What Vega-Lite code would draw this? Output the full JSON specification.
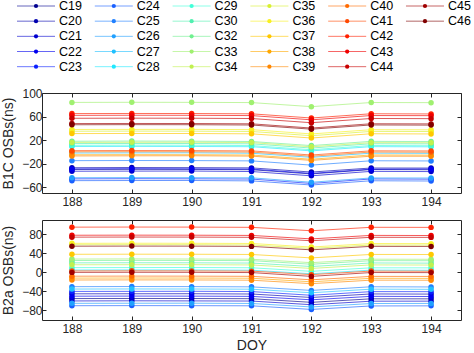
{
  "$schema": "https://vega.github.io/schema/vega-lite/v6.json",
  "padding": {"left": 0, "right": 0, "top": 0, "bottom": 0},
  "bounds": "flush",
  "spacing": 27,
  "config": {
    "font": "Liberation Sans",
    "view": {"stroke": "#262626", "strokeWidth": 1},
    "axis": {"grid": false, "domain": false, "tickColor": "#262626", "tickSize": -4, "labelColor": "#262626", "labelFontSize": 12, "titleFontSize": 14, "titleFontWeight": "normal", "titleColor": "#262626", "labelFont": "Liberation Sans", "titleFont": "Liberation Sans"},
    "axisX": {"labelPadding": 7.5},
    "axisY": {"labelPadding": 4}
  },
  "datasets": {
    "osb": [
      {"s":"C19","d":188,"a":-30,"b":-55},{"s":"C19","d":189,"a":-29.8,"b":-54.8},{"s":"C19","d":190,"a":-29.9,"b":-54.9},{"s":"C19","d":191,"a":-30.4,"b":-55.3},{"s":"C19","d":192,"a":-37.6,"b":-62.9},{"s":"C19","d":193,"a":-30.1,"b":-55.5},{"s":"C19","d":194,"a":-30.5,"b":-55.6},
      {"s":"C20","d":188,"a":-27,"b":-45},{"s":"C20","d":189,"a":-26.7,"b":-44.9},{"s":"C20","d":190,"a":-26.9,"b":-44.8},{"s":"C20","d":191,"a":-27.3,"b":-45.4},{"s":"C20","d":192,"a":-34.4,"b":-52.7},{"s":"C20","d":193,"a":-27.5,"b":-45.3},{"s":"C20","d":194,"a":-27.6,"b":-45.6},
      {"s":"C21","d":188,"a":-33,"b":-60},{"s":"C21","d":189,"a":-32.8,"b":-59.7},{"s":"C21","d":190,"a":-32.7,"b":-59.9},{"s":"C21","d":191,"a":-33.5,"b":-60.2},{"s":"C21","d":192,"a":-40.8,"b":-67.9},{"s":"C21","d":193,"a":-33.2,"b":-60.5},{"s":"C21","d":194,"a":-33.6,"b":-60.4},
      {"s":"C22","d":188,"a":-29,"b":-50},{"s":"C22","d":189,"a":-28.6,"b":-49.8},{"s":"C22","d":190,"a":-28.9,"b":-49.9},{"s":"C22","d":191,"a":-29.3,"b":-50.4},{"s":"C22","d":192,"a":-36.7,"b":-57.6},{"s":"C22","d":193,"a":-29.4,"b":-50.3},{"s":"C22","d":194,"a":-29.2,"b":-50.7},
      {"s":"C23","d":188,"a":-46,"b":-40},{"s":"C23","d":189,"a":-45.7,"b":-39.9},{"s":"C23","d":190,"a":-45.9,"b":-39.7},{"s":"C23","d":191,"a":-46.3,"b":-40.3},{"s":"C23","d":192,"a":-53.8,"b":-48.1},{"s":"C23","d":193,"a":-46.1,"b":-40.4},{"s":"C23","d":194,"a":-46.5,"b":-40.5},
      {"s":"C24","d":188,"a":-49,"b":-70},{"s":"C24","d":189,"a":-48.8,"b":-69.8},{"s":"C24","d":190,"a":-48.7,"b":-69.9},{"s":"C24","d":191,"a":-49.4,"b":-70.2},{"s":"C24","d":192,"a":-56.4,"b":-77.8},{"s":"C24","d":193,"a":-49.2,"b":-70.5},{"s":"C24","d":194,"a":-49.6,"b":-70.3},
      {"s":"C25","d":188,"a":-15,"b":-30},{"s":"C25","d":189,"a":-14.8,"b":-29.7},{"s":"C25","d":190,"a":-14.9,"b":-29.9},{"s":"C25","d":191,"a":-15.4,"b":-30.4},{"s":"C25","d":192,"a":-22.6,"b":-37.9},{"s":"C25","d":193,"a":-15.2,"b":-30.2},{"s":"C25","d":194,"a":-15.5,"b":-30.6},
      {"s":"C26","d":188,"a":-44,"b":-65},{"s":"C26","d":189,"a":-43.8,"b":-64.8},{"s":"C26","d":190,"a":-43.9,"b":-64.7},{"s":"C26","d":191,"a":-44.2,"b":-65.3},{"s":"C26","d":192,"a":-51.7,"b":-72.6},{"s":"C26","d":193,"a":-44.4,"b":-65.4},{"s":"C26","d":194,"a":-44.5,"b":-65.2},
      {"s":"C27","d":188,"a":-2,"b":-35},{"s":"C27","d":189,"a":-1.8,"b":-34.8},{"s":"C27","d":190,"a":-1.7,"b":-34.9},{"s":"C27","d":191,"a":-2.4,"b":-35.3},{"s":"C27","d":192,"a":-9.4,"b":-42.8},{"s":"C27","d":193,"a":-2.3,"b":-35.2},{"s":"C27","d":194,"a":-2.6,"b":-35.6},
      {"s":"C28","d":188,"a":9,"b":5},{"s":"C28","d":189,"a":9.2,"b":5.2},{"s":"C28","d":190,"a":9.1,"b":5.1},{"s":"C28","d":191,"a":8.7,"b":4.6},{"s":"C28","d":192,"a":1.6,"b":-2.9},{"s":"C28","d":193,"a":8.8,"b":4.8},{"s":"C28","d":194,"a":8.5,"b":4.4},
      {"s":"C29","d":188,"a":11,"b":10},{"s":"C29","d":189,"a":11.3,"b":10.1},{"s":"C29","d":190,"a":11.2,"b":10.3},{"s":"C29","d":191,"a":10.6,"b":9.7},{"s":"C29","d":192,"a":3.5,"b":2.2},{"s":"C29","d":193,"a":10.8,"b":9.6},{"s":"C29","d":194,"a":10.4,"b":9.5},
      {"s":"C30","d":188,"a":14,"b":20},{"s":"C30","d":189,"a":14.2,"b":20.2},{"s":"C30","d":190,"a":14.1,"b":20.1},{"s":"C30","d":191,"a":13.6,"b":19.6},{"s":"C30","d":192,"a":6.4,"b":12.3},{"s":"C30","d":193,"a":13.7,"b":19.8},{"s":"C30","d":194,"a":13.5,"b":19.4},
      {"s":"C32","d":188,"a":18,"b":25},{"s":"C32","d":189,"a":18.3,"b":25.2},{"s":"C32","d":190,"a":18.1,"b":25.1},{"s":"C32","d":191,"a":17.5,"b":24.7},{"s":"C32","d":192,"a":10.6,"b":17.1},{"s":"C32","d":193,"a":17.8,"b":24.6},{"s":"C32","d":194,"a":17.4,"b":24.5},
      {"s":"C33","d":188,"a":84,"b":28},{"s":"C33","d":189,"a":84.2,"b":28.3},{"s":"C33","d":190,"a":84.1,"b":28.1},{"s":"C33","d":191,"a":83.7,"b":27.6},{"s":"C33","d":192,"a":76.8,"b":20.4},{"s":"C33","d":193,"a":83.8,"b":27.7},{"s":"C33","d":194,"a":83.6,"b":27.5},
      {"s":"C34","d":188,"a":16,"b":16},{"s":"C34","d":189,"a":16.2,"b":16.1},{"s":"C34","d":190,"a":16.3,"b":16.2},{"s":"C34","d":191,"a":15.7,"b":15.6},{"s":"C34","d":192,"a":8.5,"b":8.3},{"s":"C34","d":193,"a":15.6,"b":15.7},{"s":"C34","d":194,"a":15.4,"b":15.4},
      {"s":"C35","d":188,"a":35,"b":58},{"s":"C35","d":189,"a":35.2,"b":58.2},{"s":"C35","d":190,"a":35.1,"b":58.1},{"s":"C35","d":191,"a":34.6,"b":57.6},{"s":"C35","d":192,"a":27.4,"b":50.3},{"s":"C35","d":193,"a":34.7,"b":57.5},{"s":"C35","d":194,"a":34.5,"b":57.4},
      {"s":"C36","d":188,"a":38,"b":61},{"s":"C36","d":189,"a":38.1,"b":61.2},{"s":"C36","d":190,"a":38.2,"b":61.1},{"s":"C36","d":191,"a":37.7,"b":60.7},{"s":"C36","d":192,"a":30.4,"b":53.2},{"s":"C36","d":193,"a":37.6,"b":60.6},{"s":"C36","d":194,"a":37.4,"b":60.4},
      {"s":"C37","d":188,"a":31,"b":38},{"s":"C37","d":189,"a":31.2,"b":38.2},{"s":"C37","d":190,"a":31.1,"b":38.1},{"s":"C37","d":191,"a":30.6,"b":37.6},{"s":"C37","d":192,"a":23.5,"b":30.4},{"s":"C37","d":193,"a":30.7,"b":37.7},{"s":"C37","d":194,"a":30.4,"b":37.5},
      {"s":"C38","d":188,"a":-5,"b":-12},{"s":"C38","d":189,"a":-4.8,"b":-11.8},{"s":"C38","d":190,"a":-4.9,"b":-11.9},{"s":"C38","d":191,"a":-5.4,"b":-12.3},{"s":"C38","d":192,"a":-12.6,"b":-19.8},{"s":"C38","d":193,"a":-5.3,"b":-12.4},{"s":"C38","d":194,"a":-5.6,"b":-12.6},
      {"s":"C39","d":188,"a":-7,"b":-16},{"s":"C39","d":189,"a":-6.8,"b":-15.8},{"s":"C39","d":190,"a":-6.7,"b":-15.9},{"s":"C39","d":191,"a":-7.3,"b":-16.4},{"s":"C39","d":192,"a":-14.6,"b":-23.7},{"s":"C39","d":193,"a":-7.4,"b":-16.3},{"s":"C39","d":194,"a":-7.5,"b":-16.5},
      {"s":"C40","d":188,"a":0,"b":-8},{"s":"C40","d":189,"a":0.2,"b":-7.8},{"s":"C40","d":190,"a":0.1,"b":-7.9},{"s":"C40","d":191,"a":-0.4,"b":-8.3},{"s":"C40","d":192,"a":-7.5,"b":-15.6},{"s":"C40","d":193,"a":-0.3,"b":-8.4},{"s":"C40","d":194,"a":-0.6,"b":-8.5},
      {"s":"C41","d":188,"a":2,"b":3},{"s":"C41","d":189,"a":2.2,"b":3.2},{"s":"C41","d":190,"a":2.1,"b":3.1},{"s":"C41","d":191,"a":1.6,"b":2.6},{"s":"C41","d":192,"a":-5.4,"b":-4.7},{"s":"C41","d":193,"a":1.7,"b":2.7},{"s":"C41","d":194,"a":1.5,"b":2.4},
      {"s":"C42","d":188,"a":65,"b":95},{"s":"C42","d":189,"a":65.2,"b":95.2},{"s":"C42","d":190,"a":65.1,"b":95.1},{"s":"C42","d":191,"a":64.6,"b":94.6},{"s":"C42","d":192,"a":57.5,"b":87.4},{"s":"C42","d":193,"a":64.7,"b":94.7},{"s":"C42","d":194,"a":64.4,"b":94.5},
      {"s":"C43","d":188,"a":62,"b":78},{"s":"C43","d":189,"a":62.2,"b":78.2},{"s":"C43","d":190,"a":62.1,"b":78.1},{"s":"C43","d":191,"a":61.6,"b":77.6},{"s":"C43","d":192,"a":54.4,"b":70.3},{"s":"C43","d":193,"a":61.7,"b":77.7},{"s":"C43","d":194,"a":61.5,"b":77.4},
      {"s":"C44","d":188,"a":57,"b":74},{"s":"C44","d":189,"a":57.2,"b":74.2},{"s":"C44","d":190,"a":57.1,"b":74.1},{"s":"C44","d":191,"a":56.6,"b":73.6},{"s":"C44","d":192,"a":49.5,"b":66.4},{"s":"C44","d":193,"a":56.7,"b":73.7},{"s":"C44","d":194,"a":56.4,"b":73.5},
      {"s":"C45","d":188,"a":48,"b":0},{"s":"C45","d":189,"a":48.2,"b":0.2},{"s":"C45","d":190,"a":48.1,"b":0.1},{"s":"C45","d":191,"a":47.6,"b":-0.4},{"s":"C45","d":192,"a":40.4,"b":-8.4},{"s":"C45","d":193,"a":47.7,"b":-0.3},{"s":"C45","d":194,"a":47.5,"b":-0.5},
      {"s":"C46","d":188,"a":46,"b":55},{"s":"C46","d":189,"a":46.2,"b":55.2},{"s":"C46","d":190,"a":46.1,"b":55.1},{"s":"C46","d":191,"a":45.6,"b":54.6},{"s":"C46","d":192,"a":38.5,"b":47.3},{"s":"C46","d":193,"a":45.7,"b":54.7},{"s":"C46","d":194,"a":45.4,"b":54.5}
    ]
  },
  "vconcat": [
    {
      "width": 419,
      "height": 65.5,
      "view": {"stroke": null},
      "data": {"name": "osb"},
      "transform": [
        {"filter": "datum.d == 188"},
        {"window": [{"op": "row_number", "as": "i"}], "sort": [{"field": "s"}]},
        {"calculate": "floor((datum.i - 1) / 5)", "as": "c"},
        {"calculate": "(datum.i - 1) % 5", "as": "r"}
      ],
      "encoding": {
        "x": {"field": "c", "type": "quantitative", "scale": {"domain": [0.077, 5.463], "nice": false, "zero": false}, "axis": null},
        "y": {"field": "r", "type": "quantitative", "scale": {"domain": [-0.3955, 3.922], "nice": false, "zero": false, "reverse": true}, "axis": null},
        "color": {"field": "s", "type": "nominal", "legend": null,
          "scale": {"domain": ["C19","C20","C21","C22","C23","C24","C25","C26","C27","C28","C29","C30","C32","C33","C34","C35","C36","C37","C38","C39","C40","C41","C42","C43","C44","C45","C46"],
                    "range": ["#00008F","#0000AF","#0000CF","#0000EF","#0A20FF","#1A60FF","#2080FF","#20A0FF","#20C0FF","#20E8FF","#40FFD8","#50F0B0","#70F090","#A0F070","#C0F050","#D8F030","#F8F020","#FFC800","#FFA800","#FF8800","#FF6A00","#FF4800","#FF2000","#F00000","#C80000","#A00000","#800000"]}}
      },
      "layer": [
        {"mark": {"type": "rule", "xOffset": -19, "x2Offset": 19, "strokeWidth": 1, "strokeOpacity": 0.6}, "encoding": {"x2": {"field": "c"}}},
        {"mark": {"type": "point", "shape": "circle", "filled": true, "size": 18, "opacity": 1}},
        {"mark": {"type": "text", "align": "left", "baseline": "middle", "dx": 23, "fontSize": 12.5, "font": "Liberation Sans", "color": "#000000"}, "encoding": {"text": {"field": "s"}, "color": {"value": "#000000"}}}
      ]
    },
    {
      "width": 419,
      "height": 100,
      "data": {"name": "osb"},
      "encoding": {
        "x": {"field": "d", "type": "quantitative", "scale": {"domain": [187.5, 194.5], "nice": false, "zero": false}},
        "y": {"field": "a", "type": "quantitative", "scale": {"domain": [-70, 100], "nice": false, "zero": false}},
        "color": {"field": "s", "type": "nominal", "legend": null,
          "scale": {"domain": ["C19","C20","C21","C22","C23","C24","C25","C26","C27","C28","C29","C30","C32","C33","C34","C35","C36","C37","C38","C39","C40","C41","C42","C43","C44","C45","C46"],
                    "range": ["#00008F","#0000AF","#0000CF","#0000EF","#0A20FF","#1A60FF","#2080FF","#20A0FF","#20C0FF","#20E8FF","#40FFD8","#50F0B0","#70F090","#A0F070","#C0F050","#D8F030","#F8F020","#FFC800","#FFA800","#FF8800","#FF6A00","#FF4800","#FF2000","#F00000","#C80000","#A00000","#800000"]}}
      },
      "layer": [
        {"mark": {"type": "line", "strokeWidth": 1, "strokeOpacity": 0.65},
         "encoding": {
           "x": {"field": "d", "type": "quantitative", "axis": {"orient": "bottom", "values": [188,189,190,191,192,193,194], "format": "d", "title": null}},
           "y": {"field": "a", "type": "quantitative", "axis": {"orient": "left", "values": [-60,-20,20,60,100], "title": "B1C OSBs(ns)", "minExtent": 23, "maxExtent": 23}}
         }},
        {"mark": {"type": "point", "shape": "circle", "filled": true, "size": 30, "opacity": 1},
         "encoding": {"x": {"field": "d", "type": "quantitative", "axis": null}, "y": {"field": "a", "type": "quantitative", "axis": null}}},
        {"mark": {"type": "point", "opacity": 0},
         "encoding": {
           "x": {"field": "d", "type": "quantitative", "axis": {"orient": "top", "values": [188,189,190,191,192,193,194], "labels": false, "title": null}},
           "y": {"field": "a", "type": "quantitative", "axis": {"orient": "right", "values": [-60,-20,20,60,100], "labels": false, "title": null}}
         }}
      ],
      "resolve": {"axis": {"x": "independent", "y": "independent"}}
    },
    {
      "width": 419,
      "height": 100,
      "data": {"name": "osb"},
      "encoding": {
        "x": {"field": "d", "type": "quantitative", "scale": {"domain": [187.5, 194.5], "nice": false, "zero": false}},
        "y": {"field": "b", "type": "quantitative", "scale": {"domain": [-100, 110], "nice": false, "zero": false}},
        "color": {"field": "s", "type": "nominal", "legend": null,
          "scale": {"domain": ["C19","C20","C21","C22","C23","C24","C25","C26","C27","C28","C29","C30","C32","C33","C34","C35","C36","C37","C38","C39","C40","C41","C42","C43","C44","C45","C46"],
                    "range": ["#00008F","#0000AF","#0000CF","#0000EF","#0A20FF","#1A60FF","#2080FF","#20A0FF","#20C0FF","#20E8FF","#40FFD8","#50F0B0","#70F090","#A0F070","#C0F050","#D8F030","#F8F020","#FFC800","#FFA800","#FF8800","#FF6A00","#FF4800","#FF2000","#F00000","#C80000","#A00000","#800000"]}}
      },
      "layer": [
        {"mark": {"type": "line", "strokeWidth": 1, "strokeOpacity": 0.65},
         "encoding": {
           "x": {"field": "d", "type": "quantitative", "axis": {"orient": "bottom", "values": [188,189,190,191,192,193,194], "format": "d", "title": "DOY"}},
           "y": {"field": "b", "type": "quantitative", "axis": {"orient": "left", "values": [-80,-40,0,40,80], "title": "B2a OSBs(ns)", "minExtent": 23, "maxExtent": 23}}
         }},
        {"mark": {"type": "point", "shape": "circle", "filled": true, "size": 30, "opacity": 1},
         "encoding": {"x": {"field": "d", "type": "quantitative", "axis": null}, "y": {"field": "b", "type": "quantitative", "axis": null}}},
        {"mark": {"type": "point", "opacity": 0},
         "encoding": {
           "x": {"field": "d", "type": "quantitative", "axis": {"orient": "top", "values": [188,189,190,191,192,193,194], "labels": false, "title": null}},
           "y": {"field": "b", "type": "quantitative", "axis": {"orient": "right", "values": [-80,-40,0,40,80], "labels": false, "title": null}}
         }}
      ],
      "resolve": {"axis": {"x": "independent", "y": "independent"}}
    }
  ]
}
